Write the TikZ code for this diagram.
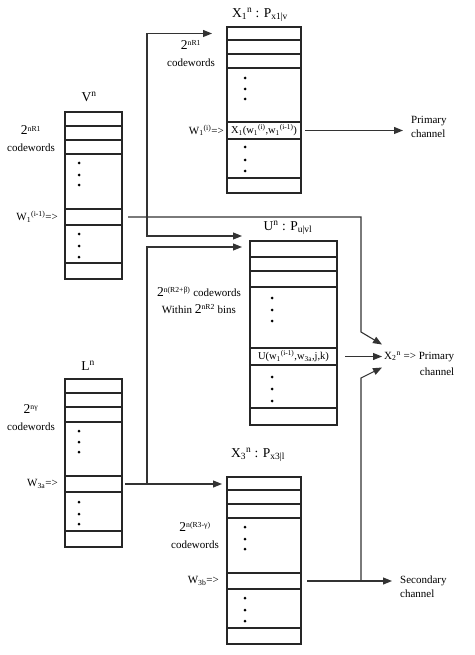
\documentclass[tikz,border=0pt]{standalone}
\usepackage{fontspec}
\setmainfont{Liberation Serif}
\usetikzlibrary{arrows.meta}
\newcommand{\mysup}[1]{\textsuperscript{#1}}
\newcommand{\mysub}[1]{\textsubscript{#1}}
\newcommand{\bigtwo}{{\fontsize{13.5}{13.5}\selectfont 2}}
\begin{document}
\begin{tikzpicture}[x=1pt,y=-1pt,
  cell/.style={draw=black!85, line width=1.1pt, inner sep=0pt, outer sep=0pt, rectangle},
  lbl/.style={font=\fontsize{11}{17}\selectfont, inner sep=0pt, align=center},
  ttl/.style={font=\fontsize{13.5}{15}\selectfont, inner sep=0pt},
  conn/.style={draw=black!80, line width=1.1pt},
  arr/.style={conn, -{Triangle[length=9pt,width=7pt]}}]
\useasboundingbox[fill=white] (0,0) rectangle (474,655);
% boxes
\foreach \n/\a/\b in {1/112/126,2/126/140,3/140/154,4/154/209,5/209/225,6/225/263,7/263/279}
  \node[cell, minimum width=57, minimum height={\b-\a}] (V\n) at (93.5,{(\a+\b)/2}) {};
\foreach \n/\a/\b in {1/379/393,2/393/407,3/407/422,4/422/476,5/476/492,6/492/531,7/531/547}
  \node[cell, minimum width=57, minimum height={\b-\a}] (L\n) at (93.5,{(\a+\b)/2}) {};
\foreach \n/\a/\b in {1/27/40,2/40/54,3/54/68,4/68/122,5/122/139,6/139/178,7/178/193}
  \node[cell, minimum width=74, minimum height={\b-\a}] (A\n) at (264,{(\a+\b)/2}) {};
\foreach \n/\a/\b in {1/477/490,2/490/504,3/504/518,4/518/573,5/573/589,6/589/628,7/628/644}
  \node[cell, minimum width=74, minimum height={\b-\a}] (C\n) at (264,{(\a+\b)/2}) {};
\foreach \n/\a/\b in {1/241/257,2/257/271,3/271/287,4/287/348,5/348/365,6/365/408,7/408/425}
  \node[cell, minimum width=87, minimum height={\b-\a}] (U\n) at (293.5,{(\a+\b)/2}) {};
% dots
\foreach \x/\y in {79/163,79/175,79/185,79/234,79/246,79/257,
                   79/431,79/442,79/452,79/502,79/514,79/524,
                   245/78,245/89,245/99,245/147,245/160,245/171,
                   245/527,245/539,245/549,245/598,245/610,245/621,
                   272/298,272/310,272/321,272/377,272/389,272/401}
  \fill (\x,\y) circle (1.5pt);
% titles
\node[ttl] (tV) at (89,97) {V\mysup{n}};
\node[ttl] (tL) at (88,366) {L\mysup{n}};
\node[ttl] (tA) at (260,15) {X\mysub{1}\mysup{n} : P\mysub{x1|v}};
\node[ttl] (tU) at (288,228) {U\mysup{n} : P\mysub{u|vl}};
\node[ttl] (tC) at (258,455) {X\mysub{3}\mysup{n} : P\mysub{x3|l}};
% side labels
\node[lbl] (cV) at (31,139) {\bigtwo\mysup{nR1}\\codewords};
\node[lbl] (cA) at (191,54) {\bigtwo\mysup{nR1}\\codewords};
\node[lbl] (cU) at (199,300) {\bigtwo\mysup{n(R2+β)} codewords\\Within \bigtwo\mysup{nR2} bins};
\node[lbl] (cL) at (31,418) {\bigtwo\mysup{nγ}\\codewords};
\node[lbl] (cC) at (195,535) {\bigtwo\mysup{n(R3-γ)}\\codewords};
\node[lbl, anchor=east] (wV) at (58,217) {W\mysub{1}\mysup{(i-1)}=>};
\node[lbl, anchor=east] (wA) at (224,130.5) {W\mysub{1}\mysup{(i)}=>};
\node[lbl, anchor=east] (wL) at (58,484) {W\mysub{3a}=>};
\node[lbl, anchor=east] (wC) at (219,581) {W\mysub{3b}=>};
% row contents
\node[lbl, font=\fontsize{10.5}{12}\selectfont] (rA) at (A5.center) {X\mysub{1}(w\mysub{1}\mysup{(i)},w\mysub{1}\mysup{(i-1)})};
\node[lbl, font=\fontsize{10.5}{12}\selectfont] (rU) at (U5.center) {U(w\mysub{1}\mysup{(i-1)},w\mysub{3a},j,k)};
% outputs
\node[lbl, align=left, anchor=west, font=\fontsize{11}{14}\selectfont] (P1) at (411,127) {Primary\\channel};
\node[lbl, anchor=west] (X2) at (384,356.5) {X\mysub{2}\mysup{n} => Primary};
\node[lbl, anchor=east] (X2b) at ([yshift=-15pt]X2.east) {channel};
\node[lbl, align=left, anchor=west, font=\fontsize{11}{14}\selectfont] (S1) at (400,587) {Secondary\\channel};
% junctions
\coordinate (J1) at (147,217);
\coordinate (J2) at (361,217);
\coordinate (J3) at (361,332);
\coordinate (K1) at (147,484);
\coordinate (J4) at (361,581);
\coordinate (J5) at (361,378);
% connectors
\draw[arr] ([xshift=6pt]V5.east) -- (J2) -- (J3) -- ([xshift=-2pt,yshift=12pt]X2.west);
\draw[arr, shorten >=15pt] (J1) |- (A1.west);
\draw[arr, shorten >=8pt] (J1) |- ([yshift=13pt]U1.west);
\draw[arr, shorten >=5pt] ([xshift=3pt]L5.east) -- (L5.east -| C1.west);
\draw[arr, shorten >=8pt] (K1) |- ([yshift=2pt]U1.west);
\draw[arr, shorten >=2pt] ([xshift=8pt]U5.east) -- (X2.west);
\draw[arr, shorten >=8pt] ([xshift=4pt]A5.east) -- (A5.east -| P1.west);
\draw[arr, shorten >=8pt] ([xshift=6pt]C5.east) -- (C5.east -| S1.west);
\draw[arr] (J4) -- (J5) -- ([xshift=-2pt,yshift=-11pt]X2.west);
\end{tikzpicture}
\end{document}
